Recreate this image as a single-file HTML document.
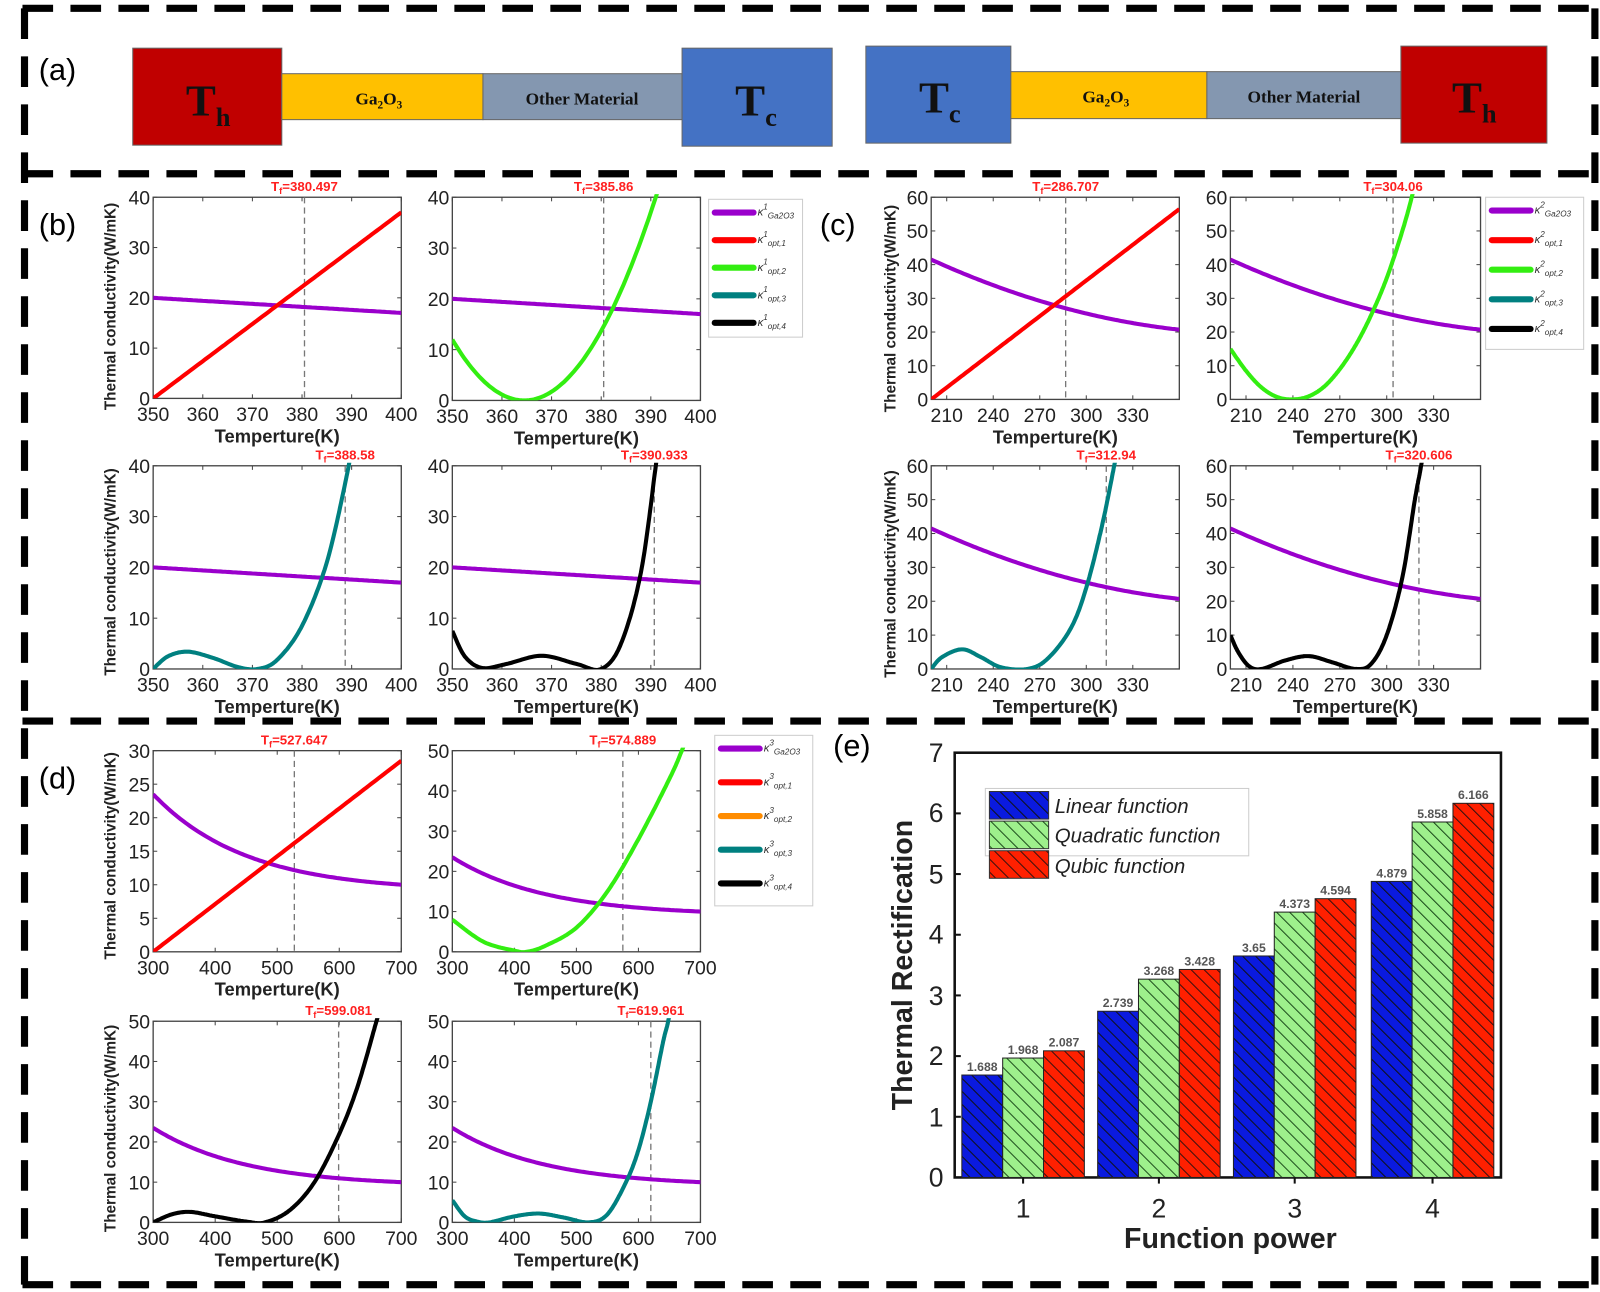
<!DOCTYPE html>
<html><head><meta charset="utf-8"><style>
html,body{margin:0;padding:0;background:#fff}
svg{display:block;font-family:"Liberation Sans",sans-serif}
</style></head><body>
<svg id="s" width="1600" height="1292" viewBox="0 0 1567 1265" xmlns="http://www.w3.org/2000/svg">
<defs>
<pattern id="hb" patternUnits="userSpaceOnUse" width="9" height="9" patternTransform="rotate(-45)"><rect width="9" height="9" fill="#0a1adf"/><line x1="0" y1="0" x2="0" y2="9" stroke="#111" stroke-width="2"/></pattern>
<pattern id="hg" patternUnits="userSpaceOnUse" width="9" height="9" patternTransform="rotate(-45)"><rect width="9" height="9" fill="#9ef08c"/><line x1="0" y1="0" x2="0" y2="9" stroke="#1a4a1a" stroke-width="2"/></pattern>
<pattern id="hr" patternUnits="userSpaceOnUse" width="9" height="9" patternTransform="rotate(-45)"><rect width="9" height="9" fill="#ff2000"/><line x1="0" y1="0" x2="0" y2="9" stroke="#331010" stroke-width="2"/></pattern>
</defs>
<g stroke="#000" stroke-width="7" stroke-dasharray="30 17" fill="none">
<line x1="22" y1="8" x2="1565" y2="8"/>
<line x1="22" y1="170" x2="1565" y2="170"/>
<line x1="22" y1="706" x2="1565" y2="706"/>
<line x1="22" y1="1258" x2="1565" y2="1258"/>
<line x1="24" y1="8" x2="24" y2="1258"/>
<line x1="1562" y1="8" x2="1562" y2="1258"/>
</g>
<text x="38" y="78" font-size="30">(a)</text>
<g stroke="#666" stroke-width="1">
<rect x="130" y="47" width="146" height="95" fill="#c00000"/>
<rect x="276" y="72" width="197" height="45" fill="#ffc000"/>
<rect x="473" y="72" width="195" height="45" fill="#8497b0"/>
<rect x="668" y="47" width="147" height="96" fill="#4472c4"/>
<rect x="848" y="45" width="142" height="95" fill="#4472c4"/>
<rect x="990" y="70" width="192" height="46" fill="#ffc000"/>
<rect x="1182" y="70" width="190" height="46" fill="#8497b0"/>
<rect x="1372" y="45" width="143" height="95" fill="#c00000"/>
</g>
<g font-family="Liberation Serif,serif" font-weight="bold" fill="#111">
<text x="182" y="113" font-size="44">T<tspan font-size="26" dy="10">h</tspan></text>
<text x="720" y="113" font-size="44">T<tspan font-size="26" dy="10">c</tspan></text>
<text x="900" y="110" font-size="44">T<tspan font-size="26" dy="10">c</tspan></text>
<text x="1422" y="110" font-size="44">T<tspan font-size="26" dy="10">h</tspan></text>
<text x="348" y="102" font-size="17">Ga<tspan font-size="11" dy="4">2</tspan><tspan dy="-4">O</tspan><tspan font-size="11" dy="4">3</tspan></text>
<text x="570" y="102" font-size="17" text-anchor="middle">Other Material</text>
<text x="1060" y="100" font-size="17">Ga<tspan font-size="11" dy="4">2</tspan><tspan dy="-4">O</tspan><tspan font-size="11" dy="4">3</tspan></text>
<text x="1277" y="100" font-size="17" text-anchor="middle">Other Material</text>
</g>
<text x="38" y="230" font-size="30">(b)</text>
<text x="803" y="230" font-size="30">(c)</text>
<text x="38" y="772" font-size="30">(d)</text>
<text x="816" y="740" font-size="30">(e)</text>
<g font-weight="bold" font-size="15" text-anchor="middle" fill="#222">
<text transform="translate(113,300) rotate(-90)">Thermal conductivity(W/mK)</text>
<text transform="translate(113,560) rotate(-90)">Thermal conductivity(W/mK)</text>
<text transform="translate(877,302) rotate(-90)">Thermal conductivity(W/mK)</text>
<text transform="translate(877,562) rotate(-90)">Thermal conductivity(W/mK)</text>
<text transform="translate(113,838) rotate(-90)">Thermal conductivity(W/mK)</text>
<text transform="translate(113,1105) rotate(-90)">Thermal conductivity(W/mK)</text>
</g>
<g id="plots"></g>
<g id="legs"></g>
<g id="pe"></g>
<g font-size="26" fill="#222" text-anchor="end">
<text x="924" y="1162">0</text><text x="924" y="1103">1</text><text x="924" y="1043">2</text><text x="924" y="984">3</text><text x="924" y="924">4</text><text x="924" y="865">5</text><text x="924" y="805">6</text><text x="924" y="746">7</text>
</g>
<g font-size="26" fill="#222" text-anchor="middle">
<text x="1002" y="1192">1</text><text x="1135" y="1192">2</text><text x="1268" y="1192">3</text><text x="1403" y="1192">4</text>
</g>
<text x="1205" y="1222" font-size="28" font-weight="bold" text-anchor="middle" fill="#222">Function power</text>
<text transform="translate(893,945) rotate(-90)" font-size="28" font-weight="bold" text-anchor="middle" fill="#222">Thermal Rectification</text>
<g>
<rect x="965" y="772" width="258" height="66" fill="#fff" stroke="#ccc"/>
<rect x="969" y="775" width="58" height="27" fill="url(#hb)" stroke="#333"/>
<rect x="969" y="804" width="58" height="27" fill="url(#hg)" stroke="#333"/>
<rect x="969" y="833" width="58" height="27" fill="url(#hr)" stroke="#333"/>
<g font-size="20" font-style="italic" fill="#222">
<text x="1033" y="796">Linear function</text>
<text x="1033" y="825">Quadratic function</text>
<text x="1033" y="855">Qubic function</text>
</g>
</g>
</svg>
<script>
var NS="http://www.w3.org/2000/svg";
function el(p,t,a,txt){var e=document.createElementNS(NS,t);for(var k in a)e.setAttribute(k,a[k]);if(txt!==undefined)e.textContent=txt;p.appendChild(e);return e;}
var plots=document.getElementById('plots');
var P="#9a00cc",R="#ff0000",G="#33ee11",T="#008080",K="#000000",O="#ff8c00";
function fpts(f,a,b){var r=[];for(var i=0;i<=100;i++){var x=a+(b-a)*i/100;r.push([x,f(x)]);}return r;}
function catmull(pts){var r=[];for(var i=0;i<pts.length-1;i++){var p0=pts[Math.max(0,i-1)],p1=pts[i],p2=pts[i+1],p3=pts[Math.min(pts.length-1,i+2)];for(var t=0;t<1;t+=0.05){var t2=t*t,t3=t2*t;var x=0.5*((2*p1[0])+(-p0[0]+p2[0])*t+(2*p0[0]-5*p1[0]+4*p2[0]-p3[0])*t2+(-p0[0]+3*p1[0]-3*p2[0]+p3[0])*t3);var y=0.5*((2*p1[1])+(-p0[1]+p2[1])*t+(2*p0[1]-5*p1[1]+4*p2[1]-p3[1])*t2+(-p0[1]+3*p1[1]-3*p2[1]+p3[1])*t3);r.push([x,y]);}}r.push(pts[pts.length-1]);return r;}
var cid=0;
function panel(o){
 var L=o.L,Rr=o.R,Tt=o.T,B=o.B;
 function X(x){return L+(x-o.x0)/(o.x1-o.x0)*(Rr-L);} function Y(y){return B-(y-o.y0)/(o.y1-o.y0)*(B-Tt);}
 var g=el(plots,'g',{});
 cid++;var cp=el(g,'clipPath',{id:'c'+cid});el(cp,'rect',{x:L,y:Tt-3,width:Rr-L,height:B-Tt+3});
 el(g,'rect',{x:L,y:Tt,width:Rr-L,height:B-Tt,fill:'#fff',stroke:'#444','stroke-width':1.3});
 o.xt.forEach(function(s){var v=parseFloat(s),xx=X(v);el(g,'line',{x1:xx,y1:B,x2:xx,y2:B-4,stroke:'#444'});el(g,'line',{x1:xx,y1:Tt,x2:xx,y2:Tt+4,stroke:'#444'});el(g,'text',{x:xx,y:B+22,'font-size':19,'text-anchor':'middle',fill:'#222'},s);});
 o.yt.forEach(function(s){var v=parseFloat(s),yy=Y(v);el(g,'line',{x1:L,y1:yy,x2:L+4,y2:yy,stroke:'#444'});el(g,'line',{x1:Rr,y1:yy,x2:Rr-4,y2:yy,stroke:'#444'});el(g,'text',{x:L-3,y:yy+7,'font-size':19,'text-anchor':'end',fill:'#222'},s);});
 var tx=X(o.tf);
 el(g,'line',{x1:tx,y1:Tt,x2:tx,y2:B,stroke:'#777','stroke-width':1.3,'stroke-dasharray':'6 4'});
 var cg=el(g,'g',{'clip-path':'url(#c'+cid+')'});
 o.curves.forEach(function(c){var pts=c.f?fpts(c.f,o.x0,o.x1):catmull(c.p);var d=pts.map(function(p,i){return (i?'L':'M')+X(p[0]).toFixed(1)+' '+Y(p[1]).toFixed(1);}).join(' ');el(cg,'path',{d:d,fill:'none',stroke:c.c,'stroke-width':4});});
 var t=el(g,'text',{x:tx,y:Tt-6,'font-size':13,'font-weight':'bold','text-anchor':'middle',fill:'#ff2020'},'T');
 el(t,'tspan',{'font-size':9,dy:3},o.sub);el(t,'tspan',{dy:-3},o.ttl);
 el(g,'text',{x:(L+Rr)/2,y:B+43,'font-size':18,'font-weight':'bold','text-anchor':'middle',fill:'#222'},'Temperture(K)');
}
var bx=['350','360','370','380','390','400'],by=['0','10','20','30','40'];
var pb=function(x){return 20-3*(x-350)/50;};
panel({L:150,R:393,T:193,B:390,x0:350,x1:400,y0:0,y1:40,xt:bx,yt:by,tf:380.497,sub:'f',ttl:'=380.497',curves:[{c:P,f:pb},{c:R,f:function(x){return 0.74*(x-350);}}]});
panel({L:443,R:686,T:193,B:392,x0:350,x1:400,y0:0,y1:40,xt:bx,yt:by,tf:380.5,sub:'f',ttl:'=385.86',curves:[{c:P,f:pb},{c:G,f:function(x){return 0.057*(x-364.5)*(x-364.5);}}]});
panel({L:150,R:393,T:456,B:655,x0:350,x1:400,y0:0,y1:40,xt:bx,yt:by,tf:388.7,sub:'f',ttl:'=388.58',curves:[{c:P,f:pb},{c:T,p:[[350,0],[353,2.5],[357,3.4],[362,2.2],[367,0.4],[371,0],[375,1.8],[380,8.5],[385,21],[389,38],[390,44]]}]});
panel({L:443,R:686,T:456,B:655,x0:350,x1:400,y0:0,y1:40,xt:bx,yt:by,tf:390.7,sub:'f',ttl:'=390.933',curves:[{c:P,f:pb},{c:K,p:[[350,7.5],[352.5,2.5],[356,0.2],[361,1],[368,2.6],[375,1],[380,0],[384,5],[388,19],[391,40],[392,48]]}]});
var cx=['210','240','270','300','330'],cy=['0','10','20','30','40','50','60'];
var pc=function(x){var u=x-200;return 41.5-0.21*u+0.0005*u*u;};
panel({L:912,R:1155,T:193,B:391,x0:200,x1:360,y0:0,y1:60,xt:cx,yt:cy,tf:286.7,sub:'f',ttl:'=286.707',curves:[{c:P,f:pc},{c:R,f:function(x){return 0.353*(x-200);}}]});
panel({L:1205,R:1450,T:193,B:391,x0:200,x1:360,y0:0,y1:60,xt:cx,yt:cy,tf:304.06,sub:'f',ttl:'=304.06',curves:[{c:P,f:pc},{c:G,p:[[200,15],[210,8.5],[220,3.5],[230,0.7],[240,0],[250,0.9],[260,3.8],[270,9],[280,16],[290,25],[300,36],[310,50],[316,60],[320,68]]}]});
panel({L:912,R:1155,T:456,B:655,x0:200,x1:360,y0:0,y1:60,xt:cx,yt:cy,tf:312.9,sub:'f',ttl:'=312.94',curves:[{c:P,f:pc},{c:T,p:[[200,0],[207,3.5],[220,5.8],[232,3.5],[245,0.5],[262,0],[275,3],[290,12],[300,24],[310,42],[318,60],[322,70]]}]});
panel({L:1205,R:1450,T:456,B:655,x0:200,x1:360,y0:0,y1:60,xt:cx,yt:cy,tf:320.6,sub:'f',ttl:'=320.606',curves:[{c:P,f:pc},{c:K,p:[[200,10],[205,5],[212,0.8],[220,0],[235,2.5],[250,3.8],[265,2],[280,0],[290,1.5],[300,10],[310,27],[318,50],[322,60],[325,70]]}]});
var dx=['300','400','500','600','700'];
var pd=function(x){return 9+14.5*Math.exp(-(x-300)/150);};
panel({L:150,R:393,T:735,B:932,x0:300,x1:700,y0:0,y1:30,xt:dx,yt:['0','5','10','15','20','25','30'],tf:527.6,sub:'f',ttl:'=527.647',curves:[{c:P,f:pd},{c:R,f:function(x){return 28.5*(x-300)/400;}}]});
var dy=['0','10','20','30','40','50'];
panel({L:443,R:686,T:735,B:932,x0:300,x1:700,y0:0,y1:50,xt:dx,yt:dy,tf:574.9,sub:'f',ttl:'=574.889',curves:[{c:P,f:pd},{c:G,p:[[300,8],[350,2.5],[400,0.3],[420,0],[450,1.5],[500,6],[550,15],[600,28],[650,43],[670,50],[690,58]]}]});
panel({L:150,R:393,T:1000,B:1197,x0:300,x1:700,y0:0,y1:50,xt:dx,yt:dy,tf:599,sub:'f',ttl:'=599.081',curves:[{c:P,f:pd},{c:K,p:[[300,0],[330,2],[360,2.6],[400,1.5],[450,0.2],[480,0],[520,3],[560,10],[600,22],[630,34],[660,50],[675,58]]}]});
panel({L:443,R:686,T:1000,B:1197,x0:300,x1:700,y0:0,y1:50,xt:dx,yt:dy,tf:620,sub:'f',ttl:'=619.961',curves:[{c:P,f:pd},{c:T,p:[[300,5.5],[320,1.5],[340,0.2],[360,0],[400,1.5],[440,2.2],[480,1.2],[520,0],[550,2],[580,10],[600,18],[620,30],[640,45],[648,50],[660,60]]}]});
var legs=document.getElementById('legs');
function legend(x,y,w,h,sp,n,cols){
 el(legs,'rect',{x:x,y:y,width:w,height:h,fill:'#fff',stroke:'#ccc'});
 var labs=['Ga2O3','opt,1','opt,2','opt,3','opt,4'];
 for(var i=0;i<5;i++){var yy=y+13+i*sp;el(legs,'line',{x1:x+6,y1:yy,x2:x+44,y2:yy,stroke:cols[i],'stroke-width':6,'stroke-linecap':'round'});
 var t=el(legs,'text',{x:x+48,y:yy+3,'font-size':11,'font-style':'italic',fill:'#333'},'κ');el(t,'tspan',{'font-size':8,dy:-6},n);el(t,'tspan',{'font-size':8,dy:9},labs[i]);}
}
legend(694,195,92,135,27,'1',[P,R,G,T,K]);
legend(1455,193,96,149,29,'2',[P,R,G,T,K]);
legend(700,720,96,167,33,'3',[P,R,O,T,K]);
var pe=document.getElementById('pe');
var L=935,Rr=1470,Tt=737,B=1153;function Ye(v){return B-v*(B-Tt)/7;}
el(pe,'rect',{x:L,y:Tt,width:Rr-L,height:B-Tt,fill:'#fff',stroke:'#111','stroke-width':2.5});
for(var v=0;v<=7;v++){el(pe,'line',{x1:L,y1:Ye(v),x2:L+6,y2:Ye(v),stroke:'#111','stroke-width':2});}
var data=[[1.688,1.968,2.087],[2.739,3.268,3.428],[3.65,4.373,4.594],[4.879,5.858,6.166]];
var labs=[['1.688','1.968','2.087'],['2.739','3.268','3.428'],['3.65','4.373','4.594'],['4.879','5.858','6.166']];
var centers=[1002,1135,1268,1403],fills=['url(#hb)','url(#hg)','url(#hr)'];
for(var gi=0;gi<4;gi++){for(var j=0;j<3;j++){var x0=centers[gi]-60+j*40,yv=Ye(data[gi][j]);
 el(pe,'rect',{x:x0,y:yv,width:40,height:B-yv,fill:fills[j],stroke:'#222','stroke-width':1});
 el(pe,'text',{x:x0+20,y:yv-4,'font-size':12,'font-weight':'bold','text-anchor':'middle',fill:'#555'},labs[gi][j]);}
 el(pe,'line',{x1:centers[gi],y1:B,x2:centers[gi],y2:B+6,stroke:'#111','stroke-width':2});}
</script>
</body></html>
